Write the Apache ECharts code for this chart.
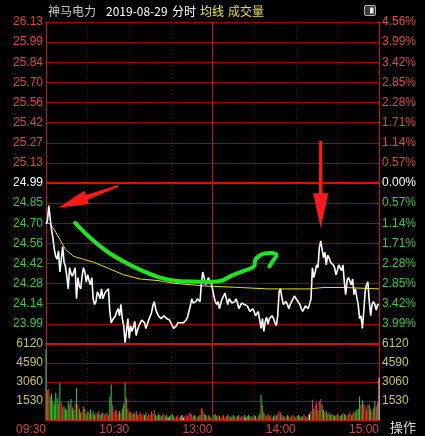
<!DOCTYPE html>
<html><head><meta charset="utf-8">
<script src="https://cdn.jsdelivr.net/npm/echarts@6/dist/echarts.min.js"></script>
<style>html,body{margin:0;padding:0;background:#000;}#c{width:425px;height:436px;}</style>
</head><body><div id="c"></div>
<script>
// ---------- data ----------
const stockName = '神马电力';
const dateText = '2019-08-29';
const prevClose = 24.99;
const priceMin = 23.85, priceMax = 26.13, priceStep = 0.1425;
const leftLabels = ['23.85','23.99','24.14','24.28','24.42','24.56','24.70','24.85','24.99','25.13','25.27','25.42','25.56','25.70','25.84','25.99','26.13'];
const rightLabels = ['4.56%','3.99%','3.42%','2.85%','2.28%','1.71%','1.14%','0.57%','0.00%','0.57%','1.14%','1.71%','2.28%','2.85%','3.42%','3.99%','4.56%'];
const volLabels = ['0','1530','3060','4590','6120'];
const volMax = 6120, volStep = 1530;
const timeTickIdx = [0, 60, 120, 180, 240];
const timeTickLabels = ['09:30','10:30','13:00','14:00','15:00'];

// minute categories: 09:30-11:30, 13:01-15:00
const times = [];
function pad(n){return (n<10?'0':'')+n;}
for (let m = 9*60+30; m <= 11*60+30; m++) times.push(pad(Math.floor(m/60))+':'+pad(m%60));
for (let m = 13*60+1; m <= 15*60; m++) times.push(pad(Math.floor(m/60))+':'+pad(m%60));

const price = [
24.70,24.72,24.83,24.74,24.66,24.60,24.52,24.47,24.45,24.51,
24.36,24.45,24.54,24.43,24.40,24.33,24.24,24.39,24.35,24.33,
24.32,24.39,24.17,24.32,24.26,24.24,24.33,24.39,24.36,24.29,
24.34,24.30,24.27,24.32,24.17,24.13,24.15,24.22,24.20,24.17,
24.24,24.17,24.20,24.22,24.23,24.24,24.08,24.00,24.02,24.03,
24.05,24.08,24.10,24.05,24.13,24.03,23.98,23.86,23.94,24.03,
23.89,23.98,23.94,23.97,24.01,23.91,23.95,23.98,24.00,24.02,
24.03,24.00,23.96,23.99,24.02,24.03,24.07,24.12,24.15,24.10,
24.07,24.05,24.04,24.03,24.04,24.05,24.04,24.03,24.03,24.02,
24.01,23.98,23.96,23.97,23.98,24.00,24.01,24.00,24.00,24.00,
24.01,24.02,24.04,24.08,24.12,24.17,24.14,24.13,24.15,24.17,
24.16,24.15,24.28,24.36,24.32,24.27,24.29,24.32,24.31,24.28,
24.24,24.19,24.15,24.13,24.15,24.10,24.14,24.17,24.19,24.21,
24.22,24.13,24.17,24.16,24.14,24.13,24.15,24.17,24.14,24.10,
24.12,24.14,24.15,24.13,24.13,24.12,24.10,24.08,24.09,24.10,
24.08,24.05,24.06,24.08,24.07,23.96,24.03,23.94,24.01,24.04,
23.99,24.03,24.04,24.05,24.03,24.00,23.98,24.05,24.22,24.24,
24.18,24.13,24.14,24.15,24.13,24.10,24.13,24.15,24.17,24.19,
24.20,24.16,24.15,24.13,24.10,24.08,24.10,24.12,24.11,24.10,
24.10,24.17,24.39,24.32,24.36,24.41,24.39,24.53,24.58,24.52,
24.46,24.50,24.41,24.48,24.46,24.43,24.44,24.41,24.39,24.34,
24.37,24.41,24.40,24.37,24.41,24.29,24.20,24.30,24.32,24.33,
24.27,24.31,24.20,24.24,24.18,24.13,24.03,24.05,23.96,24.08,
24.22,24.27,24.29,24.15,24.05,24.13,24.15,24.13,24.09,24.13,
24.13
];

// average price line, read as [minute index, price]
const avgKeys = [[0,24.71],[3,24.70],[6,24.66],[10,24.59],[14,24.52],[20,24.47],[27,24.45],[34,24.43],[44,24.39],[56,24.34],[68,24.31],[80,24.30],[92,24.28],[104,24.27],[116,24.26],[140,24.25],[160,24.24],[190,24.24],[200,24.25],[215,24.25],[240,24.24]];

const volume = [
5700,2400,2500,1900,2100,1500,1200,2200,1800,1300,
3000,1400,1000,1100,900,800,1500,1200,1700,1000,
800,1300,2600,1200,900,600,700,1100,900,500,
700,600,800,500,700,400,600,500,700,400,
500,600,400,500,600,400,1900,2860,1200,600,
800,700,500,700,600,900,1300,3000,1800,900,
600,700,500,600,500,700,400,500,600,400,
500,400,600,300,500,400,700,500,800,400,
300,500,400,300,400,500,300,400,200,300,
400,500,300,200,300,400,200,300,400,200,
300,400,300,500,600,400,300,400,300,200,
300,400,950,800,500,400,300,400,300,200,
300,400,500,300,400,300,200,300,400,200,
300,400,300,200,300,400,300,200,300,400,
200,300,300,400,200,300,400,300,200,300,
400,300,200,300,500,2040,1200,600,400,300,
500,300,400,200,300,400,300,500,700,600,
400,300,200,300,400,300,200,300,400,300,
200,300,400,300,200,300,400,300,200,400,
500,700,1630,900,1200,1400,800,1500,1690,1200,
800,600,700,500,600,400,500,400,300,400,
500,400,300,400,600,500,400,300,500,600,
400,500,700,600,800,900,1900,1200,1600,1300,
1100,800,1200,1250,900,700,1000,1500,1100,1400,
3400
];

// annotation anchors in data space [minute index, price]
const arrow1 = {tail:[52,24.97], tip:[9,24.815]};
const arrow2 = {tail:[198,25.29], tip:[198,24.67]};
const greenHook = [[21,24.707],[31.7,24.60],[43.7,24.505],[55.7,24.434],[67.7,24.375],[79.8,24.327],[91.7,24.299],[103.8,24.292],[125,24.295],[134.8,24.34],[144.6,24.377],[149.5,24.40],[151,24.45],[157,24.49],[166,24.485],[163,24.43],[160.5,24.40]];

// ---------- chart ----------
const RED_LBL = '#e04646', GRN_LBL = '#3cc83c', VOL_LBL = '#c8c45a';
const GRID_RED = '#a00000', AXIS_RED = '#c81414';
const chart = echarts.init(document.getElementById('c'), null, {renderer:'canvas'});
const lblFont = {fontFamily:'Liberation Sans, Arial, sans-serif', fontSize:12};

function pIdx(v){ return Math.round((v - priceMin) / priceStep); }
function pColor(v){ const k = pIdx(v); return k > 8 ? RED_LBL : (k === 8 ? '#ffffff' : GRN_LBL); }

const volData = volume.map((v, i) => {
  const prev = i === 0 ? prevClose : price[i-1];
  const c = price[i] > prev ? '#ff3232' : (price[i] < prev ? '#32d232' : '#e8e8e8');
  return {value: v, itemStyle: {color: c}};
});

const xCommon = {
  type:'category', data: times, boundaryGap:false,
  axisTick:{show:false},
  splitLine:{show:true, interval:(i)=> i%30===0 && i!==0 && i!==120 && i!==240,
    lineStyle:{color:'#8c0000', type:[1,3], width:1}}
};

chart.setOption({
  animation:false,
  backgroundColor:'#000',
  grid:[
    {left:46, right:46, top:22, height:322},
    {left:46, right:46, top:344, height:76}
  ],
  xAxis:[
    Object.assign({}, xCommon, {gridIndex:0, axisLabel:{show:false},
      axisLine:{show:true, onZero:false, lineStyle:{color:'#d01010', width:2}}}),
    Object.assign({}, xCommon, {gridIndex:1,
      axisLine:{show:true, onZero:false, lineStyle:{color:AXIS_RED, width:1}},
      axisLabel:{show:true, align:'right', margin:4, color:'#d24646', ...lblFont,
        interval:0,
        formatter:(val, idx)=>{ const k = timeTickIdx.indexOf(idx); return k >= 0 ? timeTickLabels[k] : ''; }}})
  ],
  yAxis:[
    {type:'value', gridIndex:0, position:'left', min:priceMin, max:priceMax, interval:priceStep,
      axisLine:{show:true, onZero:false, lineStyle:{color:AXIS_RED}}, axisTick:{show:false},
      splitLine:{show:true, lineStyle:{color:GRID_RED, width:1}},
      axisLabel:{showMinLabel:false, margin:3, ...lblFont, formatter:(v)=>leftLabels[pIdx(v)], color:(v)=>pColor(v)}},
    {type:'value', gridIndex:0, position:'right', min:priceMin, max:priceMax, interval:priceStep,
      axisLine:{show:true, onZero:false, lineStyle:{color:AXIS_RED}}, axisTick:{show:false},
      splitLine:{show:false},
      axisLabel:{showMinLabel:false, margin:3, ...lblFont, formatter:(v)=>rightLabels[pIdx(v)], color:(v)=>pColor(v)}},
    {type:'value', gridIndex:1, position:'left', min:0, max:volMax, interval:volStep,
      axisLine:{show:true, onZero:false, lineStyle:{color:AXIS_RED}}, axisTick:{show:false},
      splitLine:{show:true, lineStyle:{color:GRID_RED, width:1}},
      axisLabel:{showMinLabel:false, margin:3, ...lblFont, color:VOL_LBL, formatter:(v)=>volLabels[Math.round(v/volStep)]}},
    {type:'value', gridIndex:1, position:'right', min:0, max:volMax, interval:volStep,
      axisLine:{show:true, onZero:false, lineStyle:{color:AXIS_RED}}, axisTick:{show:false},
      splitLine:{show:false},
      axisLabel:{showMinLabel:false, margin:3, ...lblFont, color:VOL_LBL, formatter:(v)=>volLabels[Math.round(v/volStep)]}}
  ],
  series:[
    {type:'line', xAxisIndex:0, yAxisIndex:0, data:price, symbol:'none', z:5,
      lineStyle:{color:'#ffffff', width:1.6},
      markLine:{silent:true, symbol:'none', label:{show:false}, animation:false,
        data:[
          {yAxis:prevClose, lineStyle:{color:'#d81010', width:2, type:'solid'}},
          {xAxis:times[120], lineStyle:{color:AXIS_RED, width:1, type:'solid'}}
        ]}},
    {type:'line', xAxisIndex:0, yAxisIndex:0, data:avgKeys, symbol:'none', z:4,
      lineStyle:{color:'#e6e000', width:1}},
    {type:'bar', xAxisIndex:1, yAxisIndex:2, data:volData, barWidth:1, z:3,
      markLine:{silent:true, symbol:'none', label:{show:false}, animation:false,
        data:[{xAxis:times[120], lineStyle:{color:AXIS_RED, width:1, type:'solid'}}]}}
  ]
});

// ---------- header & annotations ----------
function px(pt){ return chart.convertToPixel({xAxisIndex:0, yAxisIndex:0}, pt); }
function arrowPoly(T, H, headLen, headHalf, wTail, wHead){
  const dx=H[0]-T[0], dy=H[1]-T[1], L=Math.hypot(dx,dy);
  const ux=dx/L, uy=dy/L, nx=-uy, ny=ux;
  const B=[H[0]-ux*headLen, H[1]-uy*headLen];
  return [[T[0]+nx*wTail/2, T[1]+ny*wTail/2],[B[0]+nx*wHead/2, B[1]+ny*wHead/2],[B[0]+nx*headHalf, B[1]+ny*headHalf],
    [H[0],H[1]],[B[0]-nx*headHalf, B[1]-ny*headHalf],[B[0]-nx*wHead/2, B[1]-ny*wHead/2],[T[0]-nx*wTail/2, T[1]-ny*wTail/2]];
}
const cjk = 'Noto Sans CJK SC, sans-serif';
const hdrY = 12;
chart.setOption({graphic:[
  {type:'text', left:48, top:hdrY-7, style:{text:stockName, fill:'#c8c8c8', font:'12px '+cjk}},
  {type:'text', left:106, top:hdrY-7, style:{text:dateText, fill:'#ffffff', font:'12px '+cjk}},
  {type:'text', left:172, top:hdrY-7, style:{text:'分时', fill:'#ffffff', font:'12px '+cjk}},
  {type:'text', left:200, top:hdrY-7, style:{text:'均线', fill:'#f0f020', font:'12px '+cjk}},
  {type:'text', left:228, top:hdrY-7, style:{text:'成交量', fill:'#dcdc50', font:'12px '+cjk}},
  {type:'rect', shape:{x:364.5, y:5.5, width:11, height:10, r:1.5}, style:{fill:'#3a3a3a', stroke:'#b0b0b0', lineWidth:1}},
  {type:'rect', shape:{x:370, y:7.5, width:3.5, height:6}, style:{fill:'#e8e8e8'}},
  {type:'text', left:390, top:421, style:{text:'操作', fill:'#d8d8d8', font:'13px '+cjk}},
  {type:'polygon', z:100, shape:{points:arrowPoly(px(arrow1.tail), px(arrow1.tip), 30, 7, 2, 5)}, style:{fill:'#ff1a1a'}},
  {type:'polygon', z:100, shape:{points:arrowPoly(px(arrow2.tail), px(arrow2.tip), 35, 7.5, 3, 3.5)}, style:{fill:'#ff1a1a'}},
  {type:'polyline', z:100, shape:{points:greenHook.map(px), smooth:0.35}, style:{stroke:'#1ee61e', lineWidth:4, fill:null, lineCap:'round', lineJoin:'round'}}
]});
</script>
</body></html>
